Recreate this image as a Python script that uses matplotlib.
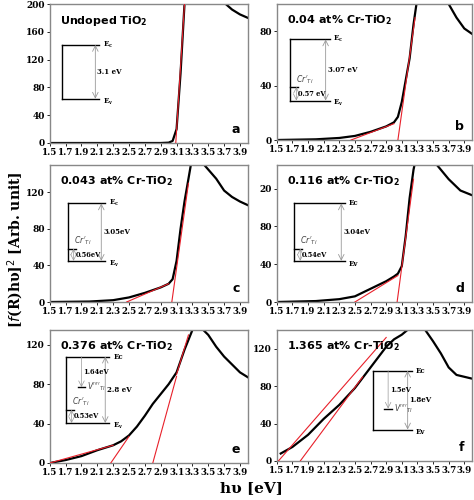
import matplotlib
matplotlib.use("Agg")
import matplotlib.pyplot as plt
import numpy as np

xticks = [1.5,1.7,1.9,2.1,2.3,2.5,2.7,2.9,3.1,3.3,3.5,3.7,3.9]
titles = ["Undoped TiO$_\\mathbf{2}$", "0.04 at% Cr-TiO$_\\mathbf{2}$", "0.043 at% Cr-TiO$_\\mathbf{2}$",
          "0.116 at% Cr-TiO$_\\mathbf{2}$", "0.376 at% Cr-TiO$_\\mathbf{2}$", "1.365 at% Cr-TiO$_\\mathbf{2}$"]
letters = ["a","b","c","d","e","f"]
ylims = [200, 100, 150, 145, 135, 140]
yticks = [[0,40,80,120,160,200],[0,40,80],[0,40,80,120],[0,40,80,120],[0,40,80,120],[0,40,80,120]]
ytlabels = [None, None, None, ["0","40","80","20"], None, None]

xa = [1.5,2.0,2.5,2.9,3.0,3.05,3.1,3.15,3.2,3.3,3.6,3.72,3.8,3.9,4.0]
ya = [0,0,0,0,0.5,3,20,100,200,320,260,200,192,185,180]
xb = [1.5,2.0,2.3,2.5,2.7,2.9,3.0,3.05,3.1,3.2,3.25,3.3,3.7,3.8,3.9,4.0]
yb = [0,0.5,1.5,3,6,10,13,17,28,60,85,105,100,90,82,78]
xc = [1.5,2.0,2.3,2.5,2.7,2.9,3.0,3.05,3.1,3.15,3.2,3.25,3.3,3.45,3.6,3.7,3.8,3.9,4.0]
yc = [0,0.5,2,5,10,16,20,25,45,80,110,135,160,150,135,122,115,110,106]
xd = [1.5,2.0,2.3,2.5,2.7,2.9,3.0,3.05,3.1,3.15,3.2,3.25,3.3,3.55,3.7,3.85,4.0]
yd = [0,1,3,6,14,22,27,30,38,70,110,140,160,145,130,118,113]
xe = [1.5,1.7,1.9,2.1,2.3,2.4,2.5,2.6,2.7,2.8,2.9,3.0,3.1,3.2,3.3,3.4,3.5,3.6,3.7,3.8,3.9,4.0]
ye = [0,3,7,13,18,22,28,37,48,60,70,80,92,115,135,138,130,118,108,100,92,87]
xf = [1.55,1.7,1.9,2.1,2.3,2.5,2.7,2.9,3.0,3.1,3.2,3.3,3.4,3.5,3.6,3.7,3.8,3.9,4.0]
yf = [8,15,28,45,60,78,100,122,130,135,142,145,140,128,115,100,92,90,88]
curves = [(xa,ya),(xb,yb),(xc,yc),(xd,yd),(xe,ye),(xf,yf)]

fits = [
    [((3.09,0),(3.2,200))],
    [((2.45,0),(3.0,12)),((3.05,0),(3.27,90))],
    [((2.47,0),(3.0,20)),((3.04,0),(3.25,130))],
    [((2.5,0),(3.05,28)),((3.04,0),(3.25,130))],
    [((1.5,0),(2.3,18)),((2.27,0),(2.5,27)),((2.8,0),(3.1,88)),((3.1,90),(3.25,130))],
    [((1.52,0),(2.9,132)),((1.8,0),(2.6,90))],
]

# insets: (x0, x1, yEc, yEv, label, gap, Ec, Ev, defect levels)
insets = [
    (0.063,0.25,0.706,0.318,"3.1 eV",["E$_\\mathregular{c}$","E$_\\mathregular{v}$"],[]),
    (0.07,0.27,0.74,0.29,"3.07 eV",["E$_\\mathregular{c}$","E$_\\mathregular{v}$"],[("cr",0.39,"0.57 eV")]),
    (0.09,0.28,0.72,0.3,"3.05eV",["E$_\\mathregular{c}$","E$_\\mathregular{v}$"],[("cr",0.39,"0.56eV")]),
    (0.09,0.35,0.72,0.3,"3.04eV",["Ec","Ev"],[("cr",0.39,"0.54eV")]),
    (0.08,0.30,0.8,0.3,"2.8 eV",["Ec","E$_\\mathregular{v}$"],[("v",0.57,"1.64eV"),("cr",0.4,"0.53eV")]),
    (0.49,0.69,0.69,0.24,"1.8eV",["Ec","Ev"],[("v",0.4,"1.5eV")]),
]

pos = [(0.105,0.714,0.418,0.278),(0.584,0.72,0.412,0.272),
       (0.105,0.396,0.418,0.274),(0.584,0.396,0.412,0.274),
       (0.105,0.074,0.418,0.266),(0.584,0.078,0.412,0.262)]

fig = plt.figure(figsize=(4.74,5.0), dpi=100)
serif = "DejaVu Serif"
for i in range(6):
    ax = fig.add_axes(pos[i])
    x, y = curves[i]
    ax.plot(x, y, color="black", lw=1.6, zorder=2)
    for (p0,p1) in fits[i]:
        ax.plot([p0[0],p1[0]],[p0[1],p1[1]], color="#e8202a", lw=0.8, zorder=3)
    ax.set_xlim(1.5,4.0); ax.set_ylim(0,ylims[i])
    ax.set_xticks(xticks)
    ax.set_xticklabels([f"{t:.1f}" for t in xticks], fontsize=6.3, fontweight="bold", family=serif)
    ax.set_yticks(yticks[i])
    ax.set_yticklabels(ytlabels[i] if ytlabels[i] else [str(t) for t in yticks[i]], fontsize=6.5, fontweight="bold", family=serif)
    ax.tick_params(length=2, width=0.6, pad=1.5)
    for s in ax.spines.values():
        s.set_color("#888888"); s.set_linewidth(1.0)
    ax.text(0.05,0.93,titles[i],transform=ax.transAxes,fontsize=8,fontweight="bold",va="top")
    ax.text(0.96,0.05,letters[i],transform=ax.transAxes,fontsize=9,fontweight="bold",ha="right",va="bottom")
    x0,x1,yc_,yv,lab,ecv,defs = insets[i]
    t = ax.transAxes
    ax.plot([x0,x0],[yv,yc_],color="black",lw=1,transform=t)
    ax.plot([x0,x1],[yc_,yc_],color="black",lw=1,transform=t)
    ax.plot([x0,x1],[yv,yv],color="black",lw=1,transform=t)
    ax.text(x1+0.02,yc_,ecv[0],transform=t,fontsize=5,family=serif,fontweight="bold",va="center")
    ax.text(x1+0.02,yv-0.02,ecv[1],transform=t,fontsize=5,family=serif,fontweight="bold",va="center")
    xa_ = x1-0.02
    ax.annotate("",xy=(xa_,yc_),xytext=(xa_,yv),xycoords=t,
                arrowprops=dict(arrowstyle="<->",color="#999999",lw=0.6,shrinkA=0,shrinkB=0))
    ax.text(xa_+0.01,(yc_+yv)/2,lab,transform=t,fontsize=5,family=serif,fontweight="bold",va="center")
    for kind,yl,dl in defs:
        if kind=="cr":
            ax.plot([x0,x0+0.04],[yl,yl],color="black",lw=1,transform=t)
            ax.annotate("",xy=(x0+0.03,yl),xytext=(x0+0.03,yv),xycoords=t,
                        arrowprops=dict(arrowstyle="<->",color="#999999",lw=0.5,shrinkA=0,shrinkB=0))
            ax.text(x0+0.04,(yl+yv)/2,dl,transform=t,fontsize=4.8,family=serif,fontweight="bold",va="center")
            ax.text(x0+0.03,yl+0.01,"$Cr'_{Ti}$",transform=t,fontsize=5.5,color="#444444",va="bottom")
        else:
            xx = x0+0.08
            ax.plot([xx-0.02,xx+0.02],[yl,yl],color="black",lw=1,transform=t)
            ax.annotate("",xy=(xx,yl),xytext=(xx,yc_),xycoords=t,
                        arrowprops=dict(arrowstyle="->",color="#999999",lw=0.5,shrinkA=0,shrinkB=0))
            ax.text(xx+0.01,(yl+yc_)/2,dl,transform=t,fontsize=4.8,family=serif,fontweight="bold",va="center")
            ax.text(xx+0.03,yl,"$V''''_{Ti}$",transform=t,fontsize=5.5,color="#444444",va="center")

fig.text(0.012,0.5,"[$\\mathit{f}$(R)h\u03c5]$^2$ [Arb. unit]",rotation=90,va="center",ha="left",
         fontsize=10,fontweight="bold",family=serif)
fig.text(0.53,0.01,"h\u03c5 [eV]",ha="center",va="bottom",fontsize=11,fontweight="bold",family=serif)
fig.savefig("out.png", dpi=100)
